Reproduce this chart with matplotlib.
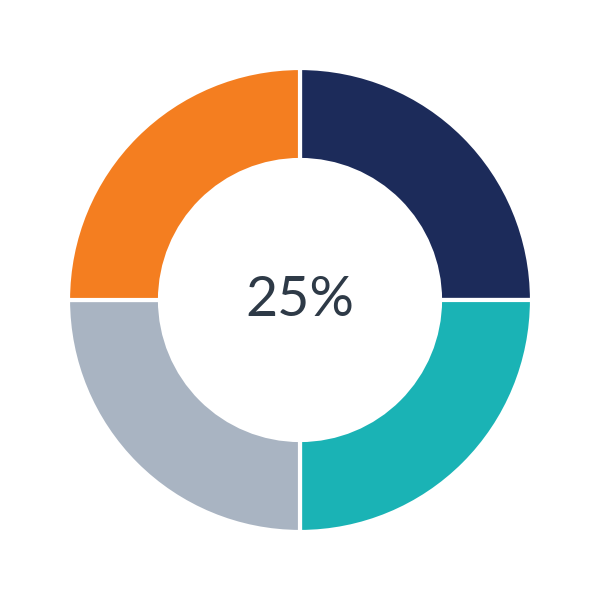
import matplotlib
matplotlib.use("Agg")
import matplotlib.pyplot as plt

labels = ["A", "B", "C", "D"]
values = [25, 25, 25, 25]
colors = ["#1C2B5A", "#1AB3B5", "#A9B4C2", "#F47E20"]
center_text = "25%"

fig = plt.figure(figsize=(6, 6), dpi=100)
ax = fig.add_axes([0, 0, 1, 1])
ax.pie(values, colors=colors, startangle=90, counterclock=False,
       radius=232, center=(0, 0), frame=False,
       wedgeprops=dict(width=92, edgecolor="white", linewidth=3))
ax.set_xlim(-300, 300)
ax.set_ylim(-300, 300)
ax.set_aspect("equal")
ax.axis("off")
ax.text(0, 0, center_text, ha="center", va="center", fontsize=40,
        family="Lato", color="#2E3A47")
fig.savefig("out.png", dpi=100)
